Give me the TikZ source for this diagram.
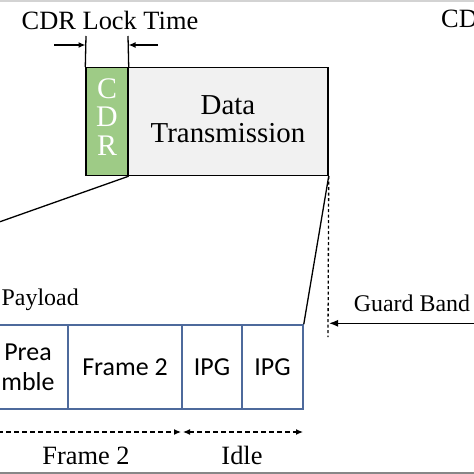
\documentclass[tikz,border=0pt]{standalone}
\usepackage{fontspec}
\setmainfont{Liberation Serif}
\newfontfamily\calib{Carlito}
\usetikzlibrary{arrows.meta}
\definecolor{cdrgreen}{HTML}{9ECB86}
\definecolor{datagray}{HTML}{F1F1F1}
\definecolor{boxblue}{HTML}{4E6A9C}
\definecolor{topband}{HTML}{D3D3D3}
\definecolor{botband}{HTML}{878787}
\begin{document}
\begin{tikzpicture}[x=1bp,y=-1bp,
  blk/.style={draw=black,line width=1.4bp},
  seg/.style={draw=boxblue,line width=1.5bp,minimum height=84bp,inner sep=0pt,align=center,font=\calib\fontsize{26}{30}\selectfont},
  serif/.style={inner sep=0pt,font=\fontsize{26.5}{30}\selectfont},
  sarrow/.style={line width=1.3bp,-{Latex[length=7bp,width=6bp]}},
  darrow/.style={line width=1.2bp,dash pattern=on 4.5bp off 3.5bp},
  dtip/.tip={Latex[length=7bp,width=6bp]}]
\useasboundingbox (0,0) rectangle (474,474);
\clip (0,0) rectangle (474,474);
\fill[white] (0,0) rectangle (474,474);
\fill[topband] (0,0) rectangle (474,2.5);
\fill[botband] (0,472) rectangle (474,474);

% top frame
\node[blk,fill=cdrgreen,minimum width=42bp,minimum height=108bp,inner sep=0pt] (cdr) at (107,121.5) {};
\node[blk,fill=datagray,minimum width=200bp,minimum height=108bp,inner sep=0pt] (data) at (228,121.5) {};
\node[inner sep=0pt,align=center,text=white,font=\fontsize{30}{29}\selectfont] (cdrtxt) at (107,117) {C\\D\\R};
\node[inner sep=0pt,align=center,font=\fontsize{29}{28.5}\selectfont] (datatxt) at (228,119) {Data\\Transmission};

\node[serif,anchor=base] (lock) at (110,29.3) {CDR Lock Time};
\node[serif,anchor=base west] (lock2) at (441,27.5) {CDR Lock Time};

\coordinate (tl) at (86,36);
\coordinate (tr) at (128,36);
\draw[line width=1.3bp] (cdr.north west) -- (tl);
\draw[line width=1.3bp] (cdr.north east) -- (tr);
\coordinate (al) at (54,45);
\coordinate (alt) at (85.5,45);
\coordinate (ar) at (158,45);
\coordinate (art) at (128.5,45);
\draw[sarrow] (al) -- (alt);
\draw[sarrow] (ar) -- (art);

% bottom row
\node[seg,minimum width=80bp] (pre) at (28,367) {Prea\\mble};
\node[seg,minimum width=114bp] (fr2) at (125,367) {Frame 2};
\node[seg,minimum width=60bp] (ipga) at (212,367) {IPG};
\node[seg,minimum width=61bp] (ipgb) at (272.5,367) {IPG};

\node[serif,anchor=base west,font=\fontsize{24}{28}\selectfont] (payload) at (1.5,305) {Payload};

% zoom lines
\coordinate (pl) at (-20,228.8);
\draw[line width=1.3bp] (cdr.south east) -- (pl);
\draw[line width=1.3bp] (data.south east) -- (ipgb.north east);
\coordinate (dotend) at (328,337);
\draw[line width=1.3bp,dash pattern=on 3bp off 2.5bp] (data.south east) -- (dotend);

% guard band
\coordinate (gbs) at (485,323.3);
\coordinate (gbt) at (329,323.3);
\draw[line width=1.4bp,-{Latex[length=9bp,width=7bp]}] (gbs) -- (gbt);
\node[serif,anchor=base,font=\fontsize{24}{28}\selectfont] (guard) at (412,311.5) {Guard Band};

% dashed spans
\coordinate (fs) at (-10,432);
\coordinate (fe) at (181,432);
\coordinate (is) at (183,432);
\coordinate (ie) at (303,432);
\draw[darrow,-dtip] (fs) -- (fe);
\draw[darrow,dtip-dtip] (is) -- (ie);
\node[serif,anchor=base] (fr2lbl) at (86,464.3) {Frame 2};
\node[serif,anchor=base] (idle) at (242,464.3) {Idle};
\end{tikzpicture}
\end{document}
